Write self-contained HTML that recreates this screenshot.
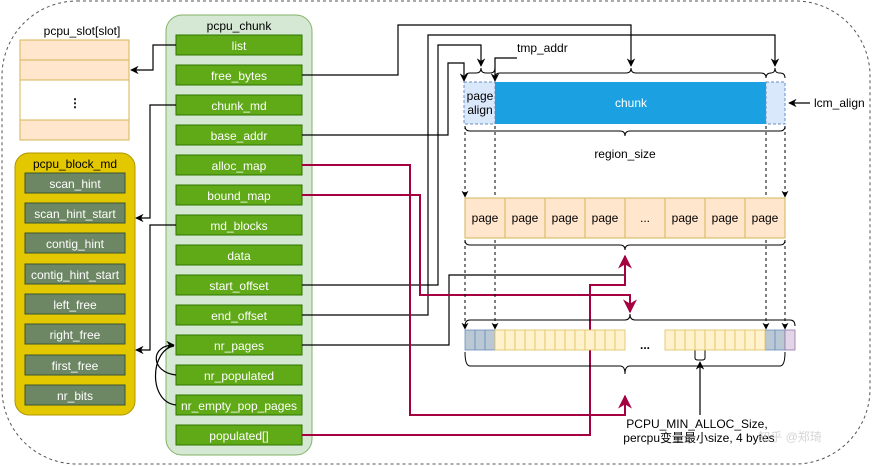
<!DOCTYPE html>
<html><head><meta charset="utf-8"><style>
html,body{margin:0;padding:0;background:#fff;width:874px;height:466px;overflow:hidden}
svg{display:block}
text{font-family:"Liberation Sans","Noto Sans CJK SC",sans-serif;font-size:12px}
</style></head><body>
<svg width="874" height="466" viewBox="0 0 874 466" xmlns="http://www.w3.org/2000/svg">
<defs>
<marker id="a" viewBox="0 0 10 10" refX="9" refY="5" markerWidth="7" markerHeight="7" orient="auto"><path d="M0,0 L10,5 L0,10 L3,5z" fill="#000"/></marker>
<marker id="r" viewBox="0 0 10 10" refX="9" refY="5" markerWidth="7" markerHeight="7" orient="auto"><path d="M0,0 L10,5 L0,10 L3,5z" fill="#a50040"/></marker>
</defs>
<rect x="2" y="1" width="868" height="463" rx="75" fill="none" stroke="#555" stroke-dasharray="3,3"/>

<!-- pcpu_slot -->
<text x="82" y="35" text-anchor="middle">pcpu_slot[slot]</text>
<g fill="#ffe6cc" stroke="#d6b656">
<rect x="20" y="40" width="109" height="20"/><rect x="20" y="60" width="109" height="20"/>
<rect x="20" y="80" width="109" height="40" fill="#fff"/><rect x="20" y="120" width="109" height="20"/>
</g>
<text x="75" y="107" text-anchor="middle" font-weight="bold" font-size="20">⋮</text>

<!-- block_md -->
<rect x="15" y="153" width="120" height="262" rx="14" fill="#e3c800" stroke="#b09500"/>
<text x="75" y="168" text-anchor="middle">pcpu_block_md</text>
<g fill="#6d8764" stroke="#3a5431">
<rect x="25" y="173" width="100" height="20"/><rect x="25" y="203" width="100" height="20"/>
<rect x="25" y="233" width="100" height="20"/><rect x="25" y="264" width="100" height="20"/>
<rect x="25" y="294" width="100" height="20"/><rect x="25" y="324" width="100" height="20"/>
<rect x="25" y="355" width="100" height="20"/><rect x="25" y="385" width="100" height="20"/>
</g>
<g fill="#fff" text-anchor="middle">
<text x="75" y="188">scan_hint</text><text x="75" y="218">scan_hint_start</text>
<text x="75" y="248">contig_hint</text><text x="75" y="279">contig_hint_start</text>
<text x="75" y="309">left_free</text><text x="75" y="339">right_free</text>
<text x="75" y="370">first_free</text><text x="75" y="400">nr_bits</text>
</g>

<!-- chunk -->
<rect x="166" y="15" width="146" height="440" rx="16" fill="#d5e8d4" stroke="#82b366"/>
<text x="239" y="30" text-anchor="middle">pcpu_chunk</text>
<g fill="#60a917" stroke="#2d7600">
<rect x="176" y="35" width="126" height="20"/><rect x="176" y="65" width="126" height="20"/>
<rect x="176" y="95" width="126" height="20"/><rect x="176" y="125" width="126" height="20"/>
<rect x="176" y="155" width="126" height="20"/><rect x="176" y="185" width="126" height="20"/>
<rect x="176" y="215" width="126" height="20"/><rect x="176" y="245" width="126" height="20"/>
<rect x="176" y="275" width="126" height="20"/><rect x="176" y="305" width="126" height="20"/>
<rect x="176" y="335" width="126" height="20"/><rect x="176" y="365" width="126" height="20"/>
<rect x="176" y="395" width="126" height="20"/><rect x="176" y="425" width="126" height="20"/>
</g>
<g fill="#fff" text-anchor="middle">
<text x="239" y="50">list</text><text x="239" y="80">free_bytes</text>
<text x="239" y="110">chunk_md</text><text x="239" y="140">base_addr</text>
<text x="239" y="170">alloc_map</text><text x="239" y="200">bound_map</text>
<text x="239" y="230">md_blocks</text><text x="239" y="260">data</text>
<text x="239" y="290">start_offset</text><text x="239" y="320">end_offset</text>
<text x="239" y="350">nr_pages</text><text x="239" y="380">nr_populated</text>
<text x="239" y="410">nr_empty_pop_pages</text><text x="239" y="440">populated[]</text>
</g>

<!-- left connectors -->
<g fill="none" stroke="#000" stroke-width="1.2">
<path d="M176,45 H153 V70 H131" marker-end="url(#a)"/>
<path d="M176,105 H150 V218 H136" marker-end="url(#a)"/>
<path d="M176,225 H150 V350 H136" marker-end="url(#a)"/>
<path d="M176,375 C150,372 150,345 174,345" marker-end="url(#a)"/>
<path d="M176,405 C148,402 150,350 174,346"/>
<path d="M302,75 H398 V25 H631 V66" marker-end="url(#a)"/>
<path d="M302,285 H438 V45 H481 V66" marker-end="url(#a)"/>
<path d="M302,315 H428 V35 H775 V66" marker-end="url(#a)"/>
<path d="M302,135 H448 V63 H464 V81" marker-end="url(#a)"/>
<path d="M517,58 H495 V81" marker-end="url(#a)"/>
<path d="M302,345 H449 V275 H625 V256" marker-end="url(#a)"/>
<path d="M810,103 H789" marker-end="url(#a)"/>
<path d="M700,415 V362" marker-end="url(#a)"/>
</g>
<g fill="none" stroke="#a50040" stroke-width="2">
<path d="M302,165 H410 V415 H625 V396" marker-end="url(#r)"/>
<path d="M302,195 H420 V295 H630 V312" marker-end="url(#r)"/>
<path d="M302,435 H590 V285 H625 V256" marker-end="url(#r)"/>
</g>

<!-- top region -->
<rect x="464" y="82" width="31" height="42" fill="#dae8fc" stroke="#6c8ebf" stroke-dasharray="3,2"/>
<rect x="495" y="82" width="271" height="42" fill="#1ba1e2"/>
<rect x="766" y="82" width="19" height="42" fill="#dae8fc" stroke="#6c8ebf" stroke-dasharray="3,2"/>
<text x="480" y="100" text-anchor="middle">page</text><text x="480" y="114" text-anchor="middle">align</text>
<text x="631" y="107" text-anchor="middle" fill="#fff">chunk</text>
<text x="517" y="52">tmp_addr</text>
<text x="814" y="107">lcm_align</text>
<text x="625" y="158" text-anchor="middle">region_size</text>
<g fill="none" stroke="#000" stroke-width="1">
<path d="M465,78 q0,-5 5,-5 h6 q5,0 5,-5 q0,5 5,5 h4 q5,0 5,-5"/>
<path d="M495,78 q0,-5 5,-5 h126 q5,0 5,-5 q0,5 5,5 h125 q5,0 5,5"/>
<path d="M766,78 q0,-5 5,-5 h0 q4,0 4,-5 q0,5 4,5 h1 q5,0 5,5"/>
<path d="M465,126 q0,5 5,5 h150 q5,0 5,5 q0,-5 5,-5 h150 q5,0 5,-5"/>
<path d="M465,240 q0,5 5,5 h150 q5,0 5,5 q0,-5 5,-5 h150 q5,0 5,-5"/>
<path d="M465,326 q0,-6 5,-6 h155 q5,0 5,-6 q0,6 5,6 h155 q5,0 5,6"/>
<path d="M465,352 q0,14 5,14 h150 q5,0 5,8 q0,-8 5,-8 h150 q5,0 5,-14"/>
<path d="M695,350 v8 q0,2 3,2 h4 q3,0 3,-2 v-8"/>
</g>
<g fill="none" stroke="#000" stroke-dasharray="3,3">
<path d="M465,126 V197" marker-end="url(#a)"/>
<path d="M785,126 V197" marker-end="url(#a)"/>
<path d="M495,126 V329" marker-end="url(#a)"/>
<path d="M766,126 V329" marker-end="url(#a)"/>
<path d="M465,240 V329" marker-end="url(#a)"/>
<path d="M785,240 V329" marker-end="url(#a)"/>
</g>

<!-- pages -->
<g fill="#ffe6cc" stroke="#d6b656">
<rect x="465" y="198" width="40" height="40"/><rect x="505" y="198" width="40" height="40"/>
<rect x="545" y="198" width="40" height="40"/><rect x="585" y="198" width="40" height="40"/>
<rect x="625" y="198" width="40" height="40"/><rect x="665" y="198" width="40" height="40"/>
<rect x="705" y="198" width="40" height="40"/><rect x="745" y="198" width="40" height="40"/>
</g>
<g text-anchor="middle">
<text x="485" y="222">page</text><text x="525" y="222">page</text><text x="565" y="222">page</text>
<text x="605" y="222">page</text><text x="645" y="222">...</text><text x="685" y="222">page</text>
<text x="725" y="222">page</text><text x="765" y="222">page</text>
</g>

<!-- bitmap -->
<g stroke="#6c8ebf" fill="#bac8d3" stroke-width="0.8">
<rect x="465" y="330" width="10" height="20"/><rect x="475" y="330" width="10" height="20"/><rect x="485" y="330" width="10" height="20"/>
<rect x="765" y="330" width="10" height="20"/><rect x="775" y="330" width="10" height="20"/>
<rect x="785" y="330" width="10" height="20" fill="#e1d5e7" stroke="#9673a6"/>
</g>
<g stroke="#e0c060" fill="#fff2cc" stroke-width="0.8">
<rect x="495" y="330" width="10" height="20"/><rect x="505" y="330" width="10" height="20"/><rect x="515" y="330" width="10" height="20"/><rect x="525" y="330" width="10" height="20"/><rect x="535" y="330" width="10" height="20"/><rect x="545" y="330" width="10" height="20"/><rect x="555" y="330" width="10" height="20"/><rect x="565" y="330" width="10" height="20"/><rect x="575" y="330" width="10" height="20"/><rect x="585" y="330" width="10" height="20"/><rect x="595" y="330" width="10" height="20"/><rect x="605" y="330" width="10" height="20"/><rect x="615" y="330" width="10" height="20"/>
<rect x="665" y="330" width="10" height="20"/><rect x="675" y="330" width="10" height="20"/><rect x="685" y="330" width="10" height="20"/><rect x="695" y="330" width="10" height="20"/><rect x="705" y="330" width="10" height="20"/><rect x="715" y="330" width="10" height="20"/><rect x="725" y="330" width="10" height="20"/><rect x="735" y="330" width="10" height="20"/><rect x="745" y="330" width="10" height="20"/><rect x="755" y="330" width="10" height="20"/>
</g>
<text x="645" y="349" text-anchor="middle" font-weight="bold" font-size="14">...</text>
<text x="697" y="428" text-anchor="middle">PCPU_MIN_ALLOC_Size,</text>
<text x="699" y="442" text-anchor="middle">percpu变量最小size, 4 bytes</text>
<text x="790" y="441" text-anchor="middle" font-size="26" fill="#c8c8c8" opacity="0.75">知乎 @郑琦</text>
</svg>
</body></html>
